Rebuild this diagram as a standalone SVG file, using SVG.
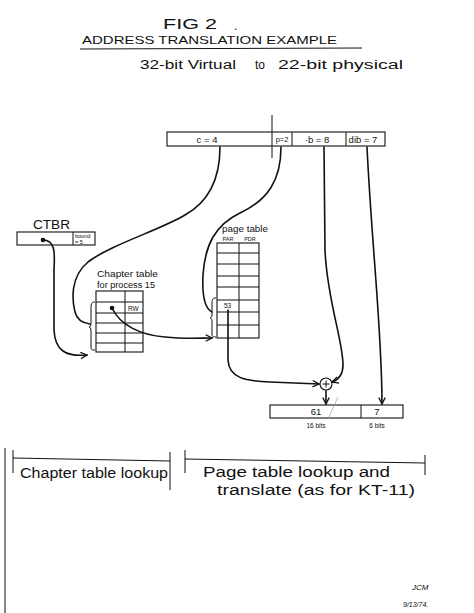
<svg xmlns="http://www.w3.org/2000/svg" width="474" height="613" viewBox="0 0 474 613">
<defs>
<marker id="arr" viewBox="0 0 10 10" refX="9" refY="5" markerWidth="8" markerHeight="8" markerUnits="userSpaceOnUse" orient="auto">
<path d="M1,1 L9,5 L1,9" fill="none" stroke="#111" stroke-width="1.6"/>
</marker>
<style>
text{font-family:"Liberation Sans",Arial,sans-serif;fill:#111}
.box{fill:#fff;stroke:#111;stroke-width:1.1}
.ln{stroke:#111;stroke-width:1;fill:none}
.wire{fill:none;stroke:#111;stroke-width:1.6;stroke-linecap:round}
.arrw{marker-end:url(#arr)}
.sm{font-size:9.5px}
.tiny{font-size:5.5px}
.hand{font-size:14px}
</style>
</defs>
<rect width="474" height="613" fill="#fff"/>

<g id="title">
<text x="163" y="29" font-size="15" textLength="54" lengthAdjust="spacingAndGlyphs">FIG 2</text>
<text x="234" y="30" font-size="12">.</text>
<text x="82" y="44" font-size="10.5" textLength="255" lengthAdjust="spacingAndGlyphs">ADDRESS  TRANSLATION  EXAMPLE</text>
<line class="ln" x1="80" y1="49" x2="362" y2="48"/>
<text x="140" y="69" font-size="12" textLength="96" lengthAdjust="spacingAndGlyphs">32-bit Virtual</text>
<text x="255" y="69" font-size="12">to</text>
<text x="278" y="69" font-size="12" textLength="125" lengthAdjust="spacingAndGlyphs">22-bit physical</text>
</g>

<g id="virtual-address">
<rect class="box" x="167" y="132" width="218" height="14"/>
<line class="ln" x1="272" y1="115" x2="272" y2="158"/>
<line class="ln" x1="292" y1="132" x2="292" y2="146"/>
<line class="ln" x1="346" y1="132" x2="346" y2="146"/>
<text class="sm" x="207" y="143" text-anchor="middle">c = 4</text>
<text x="282" y="142" font-size="7.5" text-anchor="middle">p=2</text>
<text class="sm" x="317" y="143" text-anchor="middle">·b = 8</text>
<text class="sm" x="363" y="143" text-anchor="middle">dib = 7</text>
</g>

<g id="ctbr">
<text x="33" y="229" font-size="12" textLength="37" lengthAdjust="spacingAndGlyphs">CTBR</text>
<rect class="box" x="17" y="232" width="78" height="13"/>
<line class="ln" x1="73" y1="232" x2="73" y2="245"/>
<text class="tiny" x="75" y="238">bound</text>
<text class="tiny" x="75" y="244">= 5</text>
<circle cx="43" cy="240" r="2.3" fill="#111"/>
</g>

<g id="chapter-table">
<text x="97" y="277" font-size="8.5" textLength="61" lengthAdjust="spacingAndGlyphs">Chapter table</text>
<text x="97" y="288" font-size="8.5" textLength="58" lengthAdjust="spacingAndGlyphs">for process 15</text>
<rect class="box" x="96" y="291" width="47" height="61"/>
<path class="ln" d="M96,302 H143 M96,313 H143 M96,323 H143 M96,333 H143 M96,343 H143 M125,291 V352"/>
<text x="128" y="311" font-size="6.5">RW</text>
<circle cx="112" cy="308" r="2.3" fill="#111"/>
<path class="ln" d="M95,302 C92,302 91,303 91,308 L91,323 C91,326 90,327 89,327 C90,327 91,328 91,331 L91,347 C91,350 92,350 95,350"/>
</g>

<g id="page-table">
<text x="222" y="232" font-size="8.5" textLength="46" lengthAdjust="spacingAndGlyphs">page table</text>
<text class="tiny" x="228" y="241" text-anchor="middle">PAR</text>
<text class="tiny" x="250" y="241" text-anchor="middle">PDR</text>
<rect class="box" x="217" y="243" width="42" height="95"/>
<path class="ln" d="M217,253 H259 M217,264 H259 M217,276 H259 M217,287 H259 M217,300 H259 M217,312 H259 M217,325 H259 M239,243 V338"/>
<text x="224" y="308" font-size="6.5">53</text>
<path class="ln" d="M216,298 C213,298 212,299 212,303 L212,315 C212,317 211,318 210,318 C211,318 212,319 212,321 L212,334 C212,337 213,337 216,337"/>
</g>

<g id="adder">
<circle cx="326" cy="384" r="6" fill="#fff" stroke="#111" stroke-width="1.1"/>
<path class="ln" d="M322.5,384 H329.5 M326,380.5 V387.5"/>
</g>

<g id="physical-address">
<rect class="box" x="270" y="405" width="133" height="13"/>
<line class="ln" x1="361" y1="405" x2="361" y2="418"/>
<line x1="338" y1="397" x2="328" y2="419" stroke="#999" stroke-width="0.7"/>
<text class="sm" x="316" y="415" text-anchor="middle">61</text>
<text class="sm" x="377" y="415" text-anchor="middle">7</text>
<text x="316" y="428" font-size="6.5" text-anchor="middle">16 bits</text>
<text x="377" y="428" font-size="6.5" text-anchor="middle">6 bits</text>
</g>

<g id="connectors">
<path class="wire" d="M220,147 C220,175 212,200 185,215 C160,230 110,245 88,262 C70,277 72,300 75,312 C77,320 82,323 90,324"/>
<path class="wire" d="M281,147 C281,180 268,200 240,213 C215,225 205,245 203,275 C202,295 204,308 212,312"/>
<path class="wire arrw" d="M43,240 C55,240 55,252 54,270 L54,330 C55,350 65,357 87,355"/>
<path class="wire arrw" d="M112,308 C120,325 140,335 165,337 C185,339 200,338 212,338"/>
<path class="wire arrw" d="M228,310 L228,360 C229,378 245,381 270,382 L319,384"/>
<path class="wire arrw" d="M324,147 L325,250 C327,300 343,340 343,365 C343,375 338,380 332,382"/>
<path class="wire arrw" d="M367,147 C372,250 382,330 382,404"/>
<path class="wire arrw" d="M326,391 L326,404"/>
</g>

<g id="bottom-labels">
<line class="ln" x1="5" y1="448" x2="5" y2="613"/>
<path class="ln" d="M13,450 V473 M13,458 L170,461 M170,452 V490"/>
<path class="ln" d="M185,450 V473 M185,459 L425,463 M425,455 V475"/>
<text class="hand" x="20" y="478" textLength="148" lengthAdjust="spacingAndGlyphs">Chapter table lookup</text>
<text class="hand" x="203" y="477" textLength="187" lengthAdjust="spacingAndGlyphs">Page table lookup and</text>
<text class="hand" x="217" y="495" textLength="198" lengthAdjust="spacingAndGlyphs">translate (as for KT-11)</text>
</g>

<g id="signature">
<text x="412" y="590" font-size="8" font-style="italic">JCM</text>
<text x="403" y="607" font-size="7" font-style="italic">9/13/74.</text>
</g>
</svg>
